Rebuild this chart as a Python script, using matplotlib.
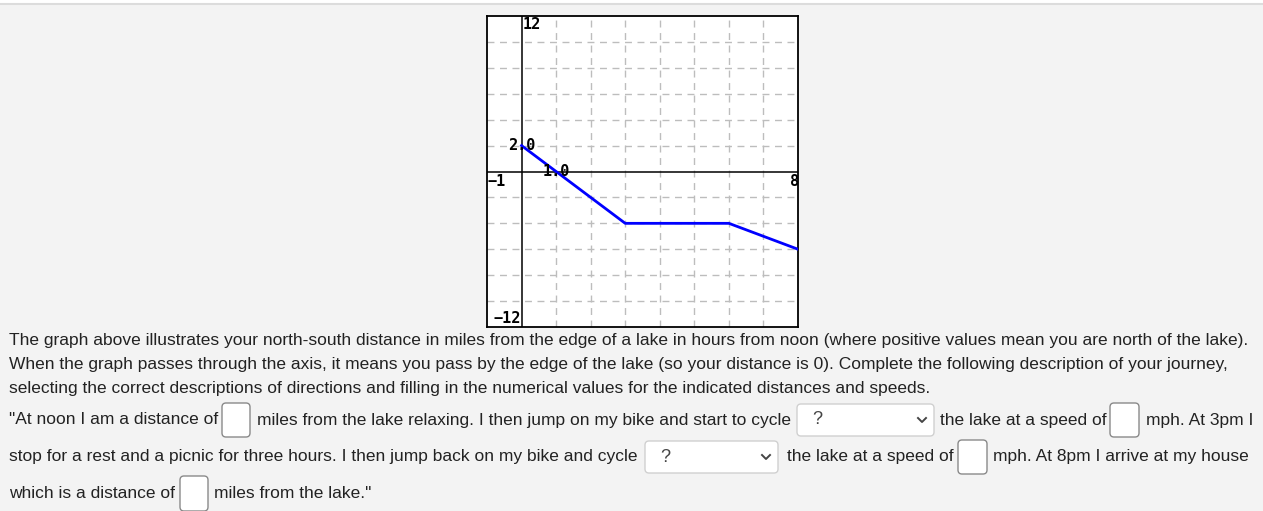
import matplotlib.pyplot as plt
from matplotlib.patches import FancyBboxPatch, Rectangle

# data
hours = [0, 3, 6, 8]
distance = [2, -4, -4, -6]
x_range = [-1, 8]
y_range = [-12, 12]
x_grid = [1, 2, 3, 4, 5, 6, 7]
y_grid = [-10, -8, -6, -4, -2, 2, 4, 6, 8, 10]
point_labels = [('2.0', 0, 2), ('1.0', 1, 0)]

W, H = 1263, 511
plt.rcParams['font.family'] = ['Liberation Sans', 'DejaVu Sans']
fig = plt.figure(figsize=(W / 100, H / 100), dpi=100, facecolor='#f3f3f3')

# page layer in pixel coordinates
page = fig.add_axes([0, 0, 1, 1])
page.set_xlim(0, W)
page.set_ylim(H, 0)
page.axis('off')
page.add_patch(Rectangle((0, 0), W, 4, color='white', lw=0))
page.plot([0, W], [4.5, 4.5], color='#dcdcdc', lw=1.5)

fs = 12.55
tc = '#222222'


def txt(x, y, s):
    page.text(x, y, s, fontsize=fs, color=tc, va='center', ha='left')


def box(x0, x1, y0, y1):
    page.add_patch(FancyBboxPatch((x0, y0), x1 - x0, y1 - y0,
                                  boxstyle='round,pad=0,rounding_size=4',
                                  fc='white', ec='#8a8a8a', lw=1))


def dropdown(x0, x1, y0, y1):
    page.add_patch(FancyBboxPatch((x0, y0), x1 - x0, y1 - y0,
                                  boxstyle='round,pad=0,rounding_size=4',
                                  fc='white', ec='#d0d0d0', lw=1))
    yc = (y0 + y1) / 2
    page.text(x0 + 15, yc, '?', fontsize=fs + 0.5, color='#444444', va='center')
    page.plot([x1 - 16, x1 - 12, x1 - 8], [yc - 2, yc + 2, yc - 2],
              color='#444444', lw=1.4)


txt(9, 341, 'The graph above illustrates your north-south distance in miles from the edge of a lake '
            'in hours from noon (where positive values mean you are north of the lake).')
txt(9, 365, 'When the graph passes through the axis, it means you pass by the edge of the lake '
            '(so your distance is 0). Complete the following description of your journey,')
txt(9, 389, 'selecting the correct descriptions of directions and filling in the numerical values '
            'for the indicated distances and speeds.')

txt(9, 420, '"At noon I am a distance of')
box(222, 250, 403, 437)
txt(257, 420, 'miles from the lake relaxing. I then jump on my bike and start to cycle')
dropdown(797, 934, 404, 436)
txt(940, 420, 'the lake at a speed of')
box(1110, 1139, 403, 437)
txt(1146, 420, 'mph. At 3pm I')

txt(9, 457, 'stop for a rest and a picnic for three hours. I then jump back on my bike and cycle')
dropdown(645, 778, 441, 473)
txt(787, 457, 'the lake at a speed of')
box(958, 987, 440, 474)
txt(993, 457, 'mph. At 8pm I arrive at my house')

txt(9, 493, 'which is a distance of')
box(180, 208, 476, 511)
txt(214, 493, 'miles from the lake."')

# the graph
gl, gr, gt, gb = 487, 798, 16, 327
ax = fig.add_axes([gl / W, 1 - gb / H, (gr - gl) / W, (gb - gt) / H])
ax.set_facecolor('white')
ax.set_xlim(x_range)
ax.set_ylim(y_range)
ax.set_xticks([])
ax.set_yticks([])
for s in ax.spines.values():
    s.set_linewidth(1.3)
    s.set_color('black')

for gx in x_grid:
    ax.axvline(gx, color='#bdbdbd', lw=1, ls=(0, (5, 4)), zorder=1)
for gy in y_grid:
    ax.axhline(gy, color='#bdbdbd', lw=1, ls=(0, (5, 4)), zorder=1)
ax.axhline(0, color='black', lw=1.1, zorder=2)
ax.axvline(0, color='black', lw=1.1, zorder=2)

ax.plot(hours, distance, color='#0000ff', lw=2, zorder=3)

lab = dict(fontsize=11, family='DejaVu Sans Mono', fontweight='bold', color='black', zorder=4)
ax.text(0.03, y_range[1] - 0.1, '12', ha='left', va='top', **lab)
ax.text(-0.03, y_range[0] + 0.1, '\u221212', ha='right', va='bottom', **lab)
ax.text(x_range[0] + 0.0, -0.2, '\u22121', ha='left', va='top', **lab)
ax.text(x_range[1] + 0.02, -0.2, '8', ha='right', va='top', **lab)
for s, px, py in point_labels:
    ax.text(px, py, s, ha='center', va='center', **lab)

fig.savefig('out.png', dpi=100, facecolor=fig.get_facecolor())
